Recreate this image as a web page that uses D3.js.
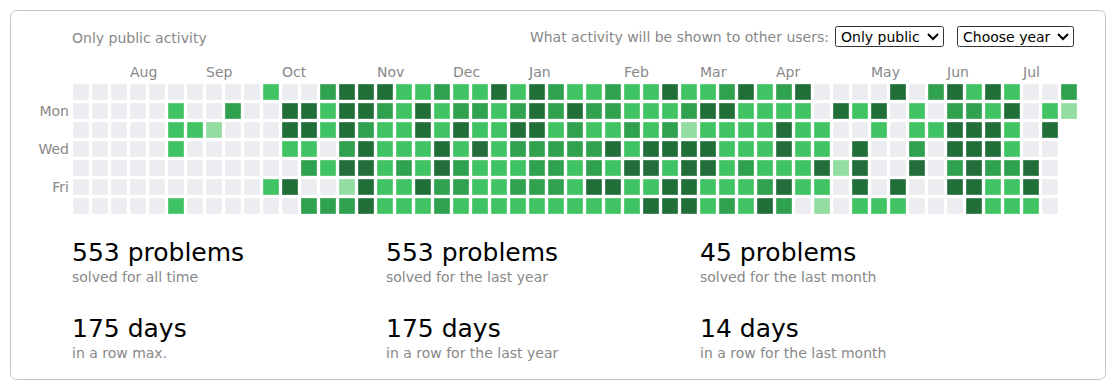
<!DOCTYPE html>
<html>
<head>
<meta charset="utf-8">
<script src="https://cdn.jsdelivr.net/npm/d3@7"></script>
<style>
  body { margin: 0; background: #fff; }
  svg { display: block; font-family: Verdana, "DejaVu Sans", sans-serif; }
</style>
</head>
<body>
<svg></svg>
<script>
// one entry per week (Sun..Sat), level 0 = nothing solved, 4 = a lot
var weeks = [
    [0,0,0,0,0,0,0], [0,0,0,0,0,0,0], [0,0,0,0,0,0,0], [0,0,0,0,0,0,0],
    [0,0,0,0,0,0,0], [0,2,2,2,0,0,2], [0,0,2,0,0,0,0], [0,0,1,0,0,0,0],
    [0,3,0,0,0,0,0], [0,0,0,0,0,0,0], [2,0,0,0,0,2,0], [0,4,4,2,0,4,0],
    [0,4,4,2,3,0,3], [3,2,2,0,2,0,3], [4,4,4,3,4,1,3], [4,4,3,4,4,4,4],
    [4,3,2,2,2,2,2], [2,2,2,2,3,2,2], [2,4,4,2,2,4,2], [3,2,2,4,4,3,3],
    [2,3,4,2,3,3,2], [2,3,2,4,2,2,2], [4,2,2,2,2,2,2], [2,3,4,3,2,3,2],
    [4,4,4,3,3,3,2], [3,3,2,3,3,3,2], [2,4,3,3,2,2,2], [2,3,2,3,3,4,2],
    [3,3,2,4,2,4,2], [2,2,3,2,4,2,2], [2,2,2,4,4,2,4], [4,2,3,4,2,4,4],
    [2,3,1,4,4,4,4], [2,4,2,4,4,2,2], [3,4,2,2,2,2,3], [4,2,2,2,3,2,2],
    [2,2,2,2,2,3,4], [3,2,4,4,2,4,3], [4,2,2,2,2,2,0], [0,0,2,2,4,2,1],
    [0,4,0,0,1,0,0], [0,2,0,4,4,4,2], [0,4,2,0,0,0,2], [4,0,0,0,0,4,2],
    [0,2,2,3,4,0,0], [3,0,2,0,0,0,0], [4,3,4,4,3,4,0], [2,3,4,4,4,4,4],
    [4,2,4,4,3,2,2], [2,4,2,2,3,2,2], [0,0,0,0,4,4,2], [0,2,4,0,0,0,0],
    [3,1]
];

var monthNames = ["Aug", "Sep", "Oct", "Nov", "Dec", "Jan", "Feb", "Mar", "Apr", "May", "Jun", "Jul"];
var monthWeeks = [3, 7, 11, 16, 20, 24, 29, 33, 37, 42, 46, 50];

var dayNames = ["Mon", "Wed", "Fri"];
var dayRows = [1, 3, 5];

var levelColors = ["#ebedf0", "#93dca2", "#40c463", "#30a14e", "#216e39"];

var statValues = ["553 problems", "553 problems", "45 problems", "175 days", "175 days", "14 days"];
var statLabels = ["solved for all time", "solved for the last year", "solved for the last month",
                  "in a row max.", "in a row for the last year", "in a row for the last month"];

var svg = d3.select("svg")
    .attr("width", 1116)
    .attr("height", 386);

// card frame
svg.append("rect")
    .attr("x", 10.5).attr("y", 10.5)
    .attr("width", 1095).attr("height", 369)
    .attr("rx", 6)
    .style("fill", "#fff")
    .style("stroke", "#c4c4c4");

svg.append("text")
    .attr("x", 72).attr("y", 43)
    .style("font-size", "14px")
    .style("fill", "#888")
    .text("Only public activity");

svg.append("text")
    .attr("x", 829).attr("y", 42)
    .attr("text-anchor", "end")
    .style("font-size", "14px")
    .style("fill", "#888")
    .text("What activity will be shown to other users:");

// fake dropdowns
var selects = [
    { label: "Only public", x: 835, w: 108 },
    { label: "Choose year", x: 957, w: 116 }
];
var sel = svg.selectAll("g.sel")
    .data(selects)
    .enter()
    .append("g")
    .attr("class", "sel")
    .attr("transform", function (d) { return "translate(" + d.x + ",26)"; });
sel.append("rect")
    .attr("x", 0.5).attr("y", 0.5)
    .attr("width", function (d) { return d.w; })
    .attr("height", 20)
    .attr("rx", 2)
    .style("fill", "#fff")
    .style("stroke", "#333");
sel.append("text")
    .attr("x", 6).attr("y", 16)
    .style("font-size", "14px")
    .style("fill", "#000")
    .text(function (d) { return d.label; });
sel.append("path")
    .attr("d", function (d) {
        var cx = d.w - 10;
        return "M" + (cx - 5) + ",8 L" + cx + ",13 L" + (cx + 5) + ",8";
    })
    .style("fill", "none")
    .style("stroke", "#000")
    .style("stroke-width", 2);

// heatmap scales
var x = d3.scaleBand()
    .domain(d3.range(weeks.length))
    .range([73, 73 + 19 * weeks.length - 3])
    .paddingInner(3 / 19);

var y = d3.scaleBand()
    .domain(d3.range(7))
    .range([84, 84 + 19 * 7 - 3])
    .paddingInner(3 / 19);

var cells = [];
weeks.forEach(function (w, i) {
    w.forEach(function (v, j) { cells.push({ week: i, day: j, level: v }); });
});

svg.append("g")
    .selectAll("rect")
    .data(cells)
    .enter()
    .append("rect")
    .attr("x", function (d) { return x(d.week); })
    .attr("y", function (d) { return y(d.day); })
    .attr("width", x.bandwidth())
    .attr("height", y.bandwidth())
    .style("fill", function (d) { return levelColors[d.level]; })
    .style("stroke", "rgba(255,255,255,0.35)")
    .style("stroke-width", 1);

svg.append("g")
    .selectAll("text")
    .data(monthNames)
    .enter()
    .append("text")
    .attr("x", function (d, i) { return x(monthWeeks[i]); })
    .attr("y", 77)
    .style("font-size", "14px")
    .style("fill", "#888")
    .text(function (d) { return d; });

svg.append("g")
    .selectAll("text")
    .data(dayNames)
    .enter()
    .append("text")
    .attr("x", 69)
    .attr("y", function (d, i) { return y(dayRows[i]) + y.bandwidth() / 2; })
    .attr("dy", "0.35em")
    .attr("text-anchor", "end")
    .style("font-size", "14px")
    .style("fill", "#888")
    .text(function (d) { return d; });

// summary numbers
var stats = svg.append("g")
    .selectAll("g")
    .data(statValues)
    .enter()
    .append("g")
    .attr("transform", function (d, i) {
        return "translate(" + (72 + (i % 3) * 314) + "," + (261 + Math.floor(i / 3) * 76) + ")";
    });
stats.append("text")
    .style("font-size", "25px")
    .style("fill", "#000")
    .text(function (d) { return d; });
stats.append("text")
    .attr("y", 21)
    .style("font-size", "14px")
    .style("fill", "#888")
    .text(function (d, i) { return statLabels[i]; });
</script>
</body>
</html>
